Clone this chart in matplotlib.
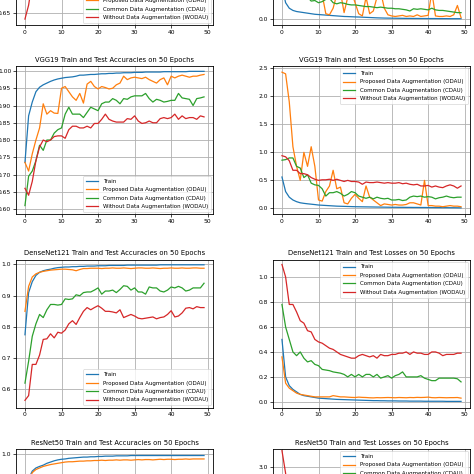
import matplotlib
matplotlib.use("Agg")
import matplotlib.pyplot as plt
from matplotlib.ticker import MultipleLocator

epochs = list(range(50))
labels = ["Train", "Proposed Data Augmentation (ODAU)",
          "Common Data Augmentation (CDAU)", "Without Data Augmentation (WODAU)"]
colors = ["#1f77b4", "#ff7f0e", "#2ca02c", "#d62728"]

# ---- top row (cut off) accuracy ----
top_acc_train = [0.75, 0.88, 0.92, 0.94, 0.95, 0.96, 0.965, 0.97, 0.975, 0.978, 0.98, 0.982, 0.984, 0.985, 0.986,
                 0.987, 0.988, 0.989, 0.99, 0.99, 0.991, 0.992, 0.992, 0.993, 0.993, 0.994, 0.994, 0.995, 0.995, 0.995,
                 0.996, 0.996, 0.996, 0.997, 0.997, 0.997, 0.997, 0.997, 0.998, 0.998, 0.998, 0.998, 0.998, 0.998,
                 0.998, 0.999, 0.999, 0.999, 0.999, 0.999]
top_acc_odau = [0.73, 0.80, 0.85, 0.88, 0.90, 0.91, 0.92, 0.93, 0.93, 0.94, 0.95, 0.95, 0.95, 0.96, 0.96, 0.96,
                0.965, 0.97, 0.97, 0.97, 0.975, 0.975, 0.975, 0.98, 0.98, 0.98, 0.98, 0.98, 0.982, 0.982, 0.982,
                0.983, 0.983, 0.983, 0.984, 0.984, 0.984, 0.985, 0.985, 0.985, 0.985, 0.986, 0.986, 0.986, 0.986,
                0.987, 0.987, 0.987, 0.987, 0.988]
top_acc_cdau = [0.70, 0.76, 0.80, 0.82, 0.84, 0.85, 0.86, 0.87, 0.87, 0.88, 0.88, 0.89, 0.89, 0.89, 0.90, 0.90,
                0.90, 0.905, 0.905, 0.91, 0.91, 0.91, 0.915, 0.915, 0.915, 0.92, 0.92, 0.92, 0.92, 0.92, 0.925,
                0.925, 0.925, 0.925, 0.925, 0.93, 0.93, 0.93, 0.93, 0.93, 0.93, 0.93, 0.93, 0.93, 0.93, 0.93, 0.93,
                0.93, 0.93, 0.93]
top_acc_wodau = [0.632, 0.672, 0.74, 0.77, 0.79, 0.80, 0.81, 0.82, 0.82, 0.83, 0.83, 0.84, 0.84, 0.84, 0.85, 0.85,
                 0.85, 0.85, 0.855, 0.855, 0.86, 0.86, 0.86, 0.86, 0.86, 0.865, 0.865, 0.865, 0.865, 0.865, 0.865,
                 0.865, 0.87, 0.87, 0.87, 0.87, 0.87, 0.87, 0.87, 0.87, 0.87, 0.87, 0.87, 0.87, 0.87, 0.87, 0.87,
                 0.87, 0.87, 0.87]

# ---- top row (cut off) loss ----
top_loss_train = [0.6, 0.3, 0.2, 0.16, 0.14, 0.13, 0.12, 0.11, 0.1, 0.09, 0.085, 0.08, 0.075, 0.07, 0.065, 0.06,
                  0.055, 0.05, 0.048, 0.045, 0.042, 0.04, 0.037, 0.034, 0.031, 0.028, 0.025, 0.023, 0.021, 0.02,
                  0.019, 0.018, 0.017, 0.016, 0.015, 0.015, 0.014, 0.014, 0.013, 0.013, 0.012, 0.012, 0.012, 0.011,
                  0.011, 0.011, 0.01, 0.01, 0.01, 0.01]
top_loss_odau = [2.3, 2.0, 1.5, 1.2, 1.0, 0.9, 0.8, 0.7, 0.6, 0.55, 0.5, 0.45, 0.1, 0.08, 0.2, 0.45, 0.5, 0.12,
                 0.4, 0.5, 0.3, 0.1, 0.06, 0.4, 0.1, 0.15, 0.4, 0.5, 0.2, 0.08, 0.06, 0.05, 0.06, 0.07, 0.05, 0.06,
                 0.05, 0.08, 0.05, 0.06, 0.07, 0.5, 0.06, 0.05, 0.05, 0.06, 0.05, 0.08, 0.25, 0.03]
top_loss_cdau = [0.9, 0.8, 0.7, 0.6, 0.55, 0.5, 0.45, 0.4, 0.33, 0.34, 0.3, 0.32, 0.36, 0.38, 0.3, 0.28, 0.3,
                 0.29, 0.27, 0.26, 0.26, 0.25, 0.24, 0.23, 0.23, 0.22, 0.21, 0.22, 0.21, 0.2, 0.2, 0.19, 0.19, 0.18,
                 0.17, 0.15, 0.19, 0.18, 0.19, 0.18, 0.17, 0.2, 0.17, 0.16, 0.16, 0.15, 0.14, 0.13, 0.12, 0.12]
top_loss_wodau = [0.95, 0.9, 0.85, 0.8, 0.75, 0.72, 0.7, 0.68, 0.65, 0.63, 0.6, 0.58, 0.57, 0.55, 0.54, 0.53,
                  0.52, 0.51, 0.5, 0.5, 0.49, 0.48, 0.48, 0.47, 0.47, 0.46, 0.46, 0.45, 0.45, 0.45, 0.44, 0.44,
                  0.44, 0.43, 0.43, 0.43, 0.42, 0.42, 0.42, 0.42, 0.41, 0.41, 0.41, 0.41, 0.4, 0.4, 0.4, 0.4, 0.4, 0.4]

# ---- VGG19 accuracy ----
vgg_acc_train = [0.735, 0.87, 0.91, 0.94, 0.953, 0.96, 0.965, 0.97, 0.974, 0.977, 0.979, 0.981, 0.982, 0.983,
                 0.985, 0.988, 0.988, 0.989, 0.99, 0.99, 0.991, 0.992, 0.992, 0.993, 0.993, 0.994, 0.994, 0.995,
                 0.995, 0.995, 0.996, 0.996, 0.996, 0.997, 0.997, 0.997, 0.997, 0.997, 0.998, 0.998, 0.998, 0.998,
                 0.998, 0.998, 0.998, 0.999, 0.999, 0.999, 0.999, 0.999]
vgg_acc_odau = [0.735, 0.71, 0.76, 0.80, 0.835, 0.905, 0.875, 0.885, 0.878, 0.877, 0.95, 0.955, 0.94, 0.925,
                0.915, 0.935, 0.907, 0.962, 0.97, 0.955, 0.948, 0.955, 0.952, 0.948, 0.95, 0.96, 0.965, 0.985,
                0.975, 0.98, 0.982, 0.98, 0.978, 0.982, 0.975, 0.97, 0.965, 0.975, 0.98, 0.96, 0.985, 0.98,
                0.985, 0.988, 0.985, 0.982, 0.985, 0.985, 0.988, 0.99]
vgg_acc_cdau = [0.61, 0.695, 0.71, 0.74, 0.785, 0.77, 0.80, 0.80, 0.82, 0.83, 0.835, 0.875, 0.895, 0.875, 0.875,
                0.875, 0.865, 0.88, 0.895, 0.89, 0.885, 0.905, 0.91, 0.91, 0.92, 0.915, 0.905, 0.92, 0.918, 0.925,
                0.928, 0.928, 0.928, 0.935, 0.92, 0.91, 0.918, 0.915, 0.91, 0.912, 0.915, 0.915, 0.935, 0.922,
                0.92, 0.918, 0.90, 0.92, 0.922, 0.925]
vgg_acc_wodau = [0.66, 0.64, 0.68, 0.74, 0.78, 0.80, 0.795, 0.80, 0.81, 0.812, 0.812, 0.805, 0.83, 0.84, 0.84,
                 0.835, 0.835, 0.84, 0.835, 0.848, 0.848, 0.86, 0.875, 0.86, 0.855, 0.852, 0.852, 0.852, 0.862,
                 0.86, 0.87, 0.855, 0.848, 0.85, 0.855, 0.85, 0.85, 0.862, 0.865, 0.862, 0.865, 0.875, 0.86, 0.87,
                 0.862, 0.865, 0.865, 0.86, 0.87, 0.867]

# ---- VGG19 loss ----
vgg_loss_train = [0.56, 0.3, 0.2, 0.15, 0.12, 0.1, 0.09, 0.082, 0.075, 0.068, 0.06, 0.056, 0.052, 0.048, 0.044,
                  0.04, 0.038, 0.036, 0.034, 0.032, 0.03, 0.029, 0.028, 0.027, 0.026, 0.025, 0.024, 0.023, 0.022,
                  0.021, 0.02, 0.02, 0.019, 0.019, 0.018, 0.018, 0.017, 0.017, 0.016, 0.016, 0.015, 0.015, 0.014,
                  0.014, 0.013, 0.013, 0.012, 0.012, 0.011, 0.01]
vgg_loss_odau = [2.43, 2.4, 1.9, 1.1, 0.75, 0.5, 1.0, 0.75, 1.1, 0.75, 0.15, 0.13, 0.3, 0.4, 0.68, 0.35, 0.38,
                 0.1, 0.08, 0.18, 0.25, 0.18, 0.12, 0.4, 0.2, 0.15, 0.1, 0.05, 0.08, 0.07, 0.06, 0.07, 0.06, 0.06,
                 0.07, 0.1, 0.1, 0.08, 0.06, 0.5, 0.05, 0.05, 0.04, 0.04, 0.03, 0.04, 0.05, 0.04, 0.04, 0.03]
vgg_loss_cdau = [0.86, 0.87, 0.9, 0.9, 0.75, 0.72, 0.55, 0.6, 0.45, 0.42, 0.41, 0.35, 0.22, 0.28, 0.28, 0.3,
                 0.27, 0.22, 0.25, 0.3, 0.28, 0.22, 0.2, 0.18, 0.2, 0.17, 0.2, 0.18, 0.17, 0.18, 0.15, 0.15, 0.16,
                 0.14, 0.15, 0.2, 0.22, 0.21, 0.22, 0.2, 0.21, 0.2, 0.17, 0.19, 0.2, 0.22, 0.2, 0.19, 0.2, 0.2]
vgg_loss_wodau = [0.94, 0.92, 0.85, 0.68, 0.68, 0.62, 0.62, 0.6, 0.55, 0.52, 0.5, 0.51, 0.51, 0.52, 0.5, 0.52,
                  0.5, 0.48, 0.5, 0.48, 0.48, 0.47, 0.43, 0.47, 0.46, 0.46, 0.47, 0.46, 0.45, 0.46, 0.45, 0.45,
                  0.46, 0.44, 0.45, 0.43, 0.42, 0.43, 0.4, 0.4, 0.41, 0.38, 0.4, 0.38, 0.37, 0.4, 0.42, 0.4, 0.36, 0.4]

# ---- DenseNet121 accuracy ----
dn_acc_train = [0.775, 0.91, 0.945, 0.965, 0.975, 0.98, 0.983, 0.985, 0.988, 0.99, 0.991, 0.992, 0.992, 0.993,
                0.993, 0.994, 0.994, 0.995, 0.995, 0.995, 0.996, 0.996, 0.996, 0.997, 0.997, 0.997, 0.997, 0.997,
                0.998, 0.998, 0.998, 0.998, 0.998, 0.998, 0.998, 0.998, 0.998, 0.999, 0.999, 0.999, 0.999, 0.999,
                0.999, 0.999, 0.999, 0.999, 0.999, 0.999, 0.999, 0.999]
dn_acc_odau = [0.85, 0.93, 0.96, 0.97, 0.975, 0.978, 0.98, 0.982, 0.983, 0.984, 0.985, 0.985, 0.984, 0.983, 0.98,
               0.984, 0.987, 0.987, 0.988, 0.988, 0.988, 0.987, 0.988, 0.988, 0.989, 0.988, 0.988, 0.989, 0.988,
               0.987, 0.988, 0.989, 0.989, 0.988, 0.988, 0.989, 0.988, 0.987, 0.988, 0.988, 0.989, 0.988, 0.988,
               0.989, 0.988, 0.988, 0.989, 0.989, 0.988, 0.988]
dn_acc_cdau = [0.62, 0.69, 0.77, 0.81, 0.84, 0.83, 0.855, 0.872, 0.872, 0.87, 0.872, 0.89, 0.888, 0.89, 0.903,
               0.9, 0.91, 0.912, 0.912, 0.918, 0.925, 0.905, 0.915, 0.915, 0.918, 0.91, 0.92, 0.932, 0.93, 0.918,
               0.925, 0.912, 0.912, 0.905, 0.928, 0.925, 0.925, 0.915, 0.912, 0.918, 0.928, 0.925, 0.93, 0.925,
               0.915, 0.918, 0.925, 0.925, 0.925, 0.94]
dn_acc_wodau = [0.565, 0.58, 0.68, 0.68, 0.71, 0.76, 0.762, 0.778, 0.765, 0.783, 0.78, 0.79, 0.81, 0.82, 0.808,
                0.83, 0.85, 0.862, 0.855, 0.862, 0.868, 0.86, 0.85, 0.85, 0.848, 0.845, 0.855, 0.83, 0.835, 0.84,
                0.835, 0.828, 0.826, 0.828, 0.83, 0.832, 0.826, 0.83, 0.832, 0.84, 0.852, 0.832, 0.835, 0.845,
                0.86, 0.862, 0.858, 0.865, 0.862, 0.862]

# ---- DenseNet121 loss ----
dn_loss_train = [0.5, 0.2, 0.13, 0.1, 0.08, 0.06, 0.05, 0.045, 0.04, 0.035, 0.03, 0.028, 0.026, 0.024, 0.022,
                 0.02, 0.019, 0.018, 0.017, 0.016, 0.015, 0.014, 0.013, 0.012, 0.011, 0.01, 0.01, 0.009, 0.009,
                 0.008, 0.008, 0.008, 0.007, 0.007, 0.007, 0.006, 0.006, 0.006, 0.006, 0.005, 0.005, 0.005, 0.005,
                 0.005, 0.005, 0.004, 0.004, 0.004, 0.004, 0.004]
dn_loss_odau = [0.36, 0.15, 0.11, 0.09, 0.07, 0.06, 0.055, 0.05, 0.045, 0.04, 0.04, 0.04, 0.04, 0.04, 0.05,
                0.045, 0.04, 0.04, 0.038, 0.036, 0.035, 0.038, 0.036, 0.035, 0.033, 0.032, 0.034, 0.033, 0.034,
                0.035, 0.034, 0.033, 0.035, 0.034, 0.033, 0.035, 0.034, 0.036, 0.035, 0.036, 0.038, 0.034, 0.033,
                0.035, 0.034, 0.033, 0.034, 0.034, 0.035, 0.03]
dn_loss_cdau = [0.78, 0.6, 0.5, 0.4, 0.37, 0.4, 0.35, 0.32, 0.33, 0.3, 0.29, 0.26, 0.255, 0.25, 0.24, 0.235, 0.23,
                0.22, 0.2, 0.22, 0.2, 0.22, 0.2, 0.22, 0.22, 0.2, 0.22, 0.19, 0.2, 0.21, 0.19, 0.21, 0.22, 0.24,
                0.2, 0.2, 0.2, 0.2, 0.21, 0.19, 0.18, 0.17, 0.17, 0.19, 0.19, 0.19, 0.19, 0.19, 0.185, 0.16]
dn_loss_wodau = [1.1, 1.0, 0.78, 0.78, 0.72, 0.65, 0.63, 0.57, 0.56, 0.5, 0.48, 0.47, 0.45, 0.43, 0.42, 0.4,
                 0.38, 0.37, 0.36, 0.35, 0.35, 0.37, 0.38, 0.37, 0.36, 0.37, 0.35, 0.38, 0.37, 0.37, 0.38, 0.38,
                 0.39, 0.39, 0.4, 0.38, 0.4, 0.39, 0.39, 0.38, 0.38, 0.4, 0.4, 0.39, 0.37, 0.38, 0.38, 0.38, 0.39, 0.39]

# ---- ResNet50 accuracy ----
rn_acc_train = [0.6, 0.92, 0.945, 0.955, 0.96, 0.964, 0.97, 0.974, 0.978, 0.981, 0.983, 0.984, 0.986, 0.987,
                0.988, 0.989, 0.99, 0.99, 0.991, 0.991, 0.992, 0.992, 0.993, 0.993, 0.993, 0.994, 0.994, 0.994,
                0.994, 0.995, 0.995, 0.995, 0.995, 0.995, 0.995, 0.995, 0.995, 0.995, 0.995, 0.995, 0.995, 0.995,
                0.995, 0.995, 0.995, 0.995, 0.995, 0.995, 0.995, 0.995]
rn_acc_odau = [0.6, 0.91, 0.94, 0.95, 0.955, 0.96, 0.963, 0.966, 0.968, 0.97, 0.972, 0.974, 0.975, 0.975, 0.976,
               0.977, 0.977, 0.978, 0.978, 0.979, 0.979, 0.98, 0.979, 0.98, 0.98, 0.981, 0.98, 0.981, 0.981, 0.98,
               0.981, 0.982, 0.981, 0.982, 0.982, 0.981, 0.982, 0.983, 0.982, 0.983, 0.983, 0.982, 0.983, 0.983,
               0.984, 0.983, 0.984, 0.984, 0.984, 0.984]
rn_acc_cdau = [0.58, 0.7, 0.77, 0.81, 0.83, 0.85, 0.86, 0.87, 0.87, 0.88, 0.88, 0.885, 0.89, 0.89, 0.895, 0.895,
               0.9, 0.9, 0.9, 0.905, 0.905, 0.905, 0.905, 0.91, 0.91, 0.91, 0.91, 0.91, 0.91, 0.915, 0.915, 0.915,
               0.915, 0.915, 0.915, 0.915, 0.915, 0.915, 0.915, 0.915, 0.915, 0.915, 0.915, 0.915, 0.915, 0.915,
               0.915, 0.915, 0.915, 0.915]
rn_acc_wodau = [0.56, 0.65, 0.72, 0.76, 0.78, 0.8, 0.81, 0.82, 0.82, 0.83, 0.83, 0.835, 0.84, 0.84, 0.845, 0.845,
                0.85, 0.85, 0.85, 0.85, 0.855, 0.855, 0.855, 0.855, 0.855, 0.86, 0.86, 0.86, 0.86, 0.86, 0.86,
                0.86, 0.86, 0.86, 0.86, 0.86, 0.86, 0.86, 0.86, 0.86, 0.86, 0.86, 0.86, 0.86, 0.86, 0.86, 0.86,
                0.86, 0.86, 0.86]

# ---- ResNet50 loss ----
rn_loss_train = [1.0, 0.4, 0.25, 0.18, 0.14, 0.12, 0.1, 0.09, 0.08, 0.07, 0.06, 0.05, 0.05, 0.04, 0.04, 0.04,
                 0.03, 0.03, 0.03, 0.03, 0.02, 0.02, 0.02, 0.02, 0.02, 0.02, 0.02, 0.02, 0.01, 0.01, 0.01, 0.01,
                 0.01, 0.01, 0.01, 0.01, 0.01, 0.01, 0.01, 0.01, 0.01, 0.01, 0.01, 0.01, 0.01, 0.01, 0.01, 0.01,
                 0.01, 0.01]
rn_loss_odau = [1.2, 0.5, 0.3, 0.2, 0.15, 0.12, 0.1, 0.09, 0.08, 0.08, 0.07, 0.07, 0.06, 0.06, 0.06, 0.06, 0.05,
                0.05, 0.05, 0.05, 0.05, 0.05, 0.05, 0.05, 0.05, 0.05, 0.05, 0.05, 0.05, 0.05, 0.05, 0.05, 0.05,
                0.05, 0.05, 0.05, 0.05, 0.05, 0.05, 0.05, 0.05, 0.05, 0.05, 0.05, 0.05, 0.05, 0.05, 0.05, 0.05, 0.05]
rn_loss_cdau = [1.8, 1.0, 0.7, 0.55, 0.45, 0.4, 0.36, 0.33, 0.3, 0.28, 0.27, 0.26, 0.25, 0.24, 0.23, 0.23, 0.22,
                0.22, 0.21, 0.21, 0.21, 0.2, 0.2, 0.2, 0.2, 0.2, 0.2, 0.2, 0.2, 0.2, 0.2, 0.2, 0.2, 0.2, 0.2, 0.2,
                0.2, 0.2, 0.2, 0.2, 0.2, 0.2, 0.2, 0.2, 0.2, 0.2, 0.2, 0.2, 0.2, 0.2]
rn_loss_wodau = [3.4, 2.85, 1.6, 1.2, 1.0, 0.9, 0.85, 0.8, 0.75, 0.7, 0.65, 0.6, 0.58, 0.55, 0.52, 0.5, 0.48,
                 0.46, 0.45, 0.44, 0.43, 0.42, 0.42, 0.41, 0.41, 0.4, 0.4, 0.4, 0.4, 0.4, 0.4, 0.4, 0.4, 0.4, 0.4,
                 0.4, 0.4, 0.4, 0.4, 0.4, 0.4, 0.4, 0.4, 0.4, 0.4, 0.4, 0.4, 0.4, 0.4, 0.4]

W = H = 474.0
fig = plt.figure(figsize=(4.74, 4.74), dpi=100)

def make_ax(left_px, top_px, width_px, height_px):
    return fig.add_axes([left_px / W, 1 - (top_px + height_px) / H, width_px / W, height_px / H])

def panel(ax, series, title, ylim, ystep, legend_loc):
    for vals, lab, c in zip(series, labels, colors):
        ax.plot(epochs, vals, color=c, lw=0.9, label=lab)
    ax.set_xlim(-2.45, 51.45)
    ax.set_ylim(*ylim)
    ax.xaxis.set_major_locator(MultipleLocator(10))
    ax.yaxis.set_major_locator(MultipleLocator(ystep))
    ax.grid(True, color="#b0b0b0", lw=0.6)
    ax.tick_params(labelsize=4.3, length=2, width=0.5, pad=1.5)
    for s in ax.spines.values():
        s.set_linewidth(0.6)
    if title:
        ax.set_title(title, fontsize=4.9, pad=3)
    leg = ax.legend(loc=legend_loc, fontsize=4.0, handlelength=2.3, borderpad=0.5,
                    labelspacing=0.62, framealpha=0.8, borderaxespad=0.4)
    leg.get_frame().set_linewidth(0.5)

LX, RX, AW = 16, 273, 197
AH = 148
rows_top = [-123, 66, 259.5, 449]

ax = make_ax(LX, rows_top[0], AW, AH)
panel(ax, [top_acc_train, top_acc_odau, top_acc_cdau, top_acc_wodau], None, (0.615, 1.04), 0.05, "lower right")
ax = make_ax(RX, rows_top[0], AW, AH)
panel(ax, [top_loss_train, top_loss_odau, top_loss_cdau, top_loss_wodau], None, (-0.105, 2.585), 0.5, "upper right")

ax = make_ax(LX, rows_top[1], AW, AH)
panel(ax, [vgg_acc_train, vgg_acc_odau, vgg_acc_cdau, vgg_acc_wodau],
      "VGG19 Train and Test Accuracies on 50 Epochs", (0.5856, 1.0145), 0.05, "lower right")
ax = make_ax(RX, rows_top[1], AW, AH)
panel(ax, [vgg_loss_train, vgg_loss_odau, vgg_loss_cdau, vgg_loss_wodau],
      "VGG19 Train and Test Losses on 50 Epochs", (-0.10, 2.54), 0.5, "upper right")

ax = make_ax(LX, rows_top[2], AW, AH)
panel(ax, [dn_acc_train, dn_acc_odau, dn_acc_cdau, dn_acc_wodau],
      "DenseNet121 Train and Test Accuracies on 50 Epochs", (0.542, 1.016), 0.1, "lower right")
ax = make_ax(RX, rows_top[2], AW, AH)
panel(ax, [dn_loss_train, dn_loss_odau, dn_loss_cdau, dn_loss_wodau],
      "DenseNet121 Train and Test Losses on 50 Epochs", (-0.045, 1.14), 0.2, "upper right")

ax = make_ax(LX, rows_top[3], AW, AH)
panel(ax, [rn_acc_train, rn_acc_odau, rn_acc_cdau, rn_acc_wodau],
      "ResNet50 Train and Test Accuracies on 50 Epochs", (0.54, 1.016), 0.1, "lower right")
ax = make_ax(RX, rows_top[3], AW, AH)
panel(ax, [rn_loss_train, rn_loss_odau, rn_loss_cdau, rn_loss_wodau],
      "ResNet50 Train and Test Losses on 50 Epochs", (-0.16, 3.44), 0.5, "upper right")

fig.savefig("out.png", dpi=100)
